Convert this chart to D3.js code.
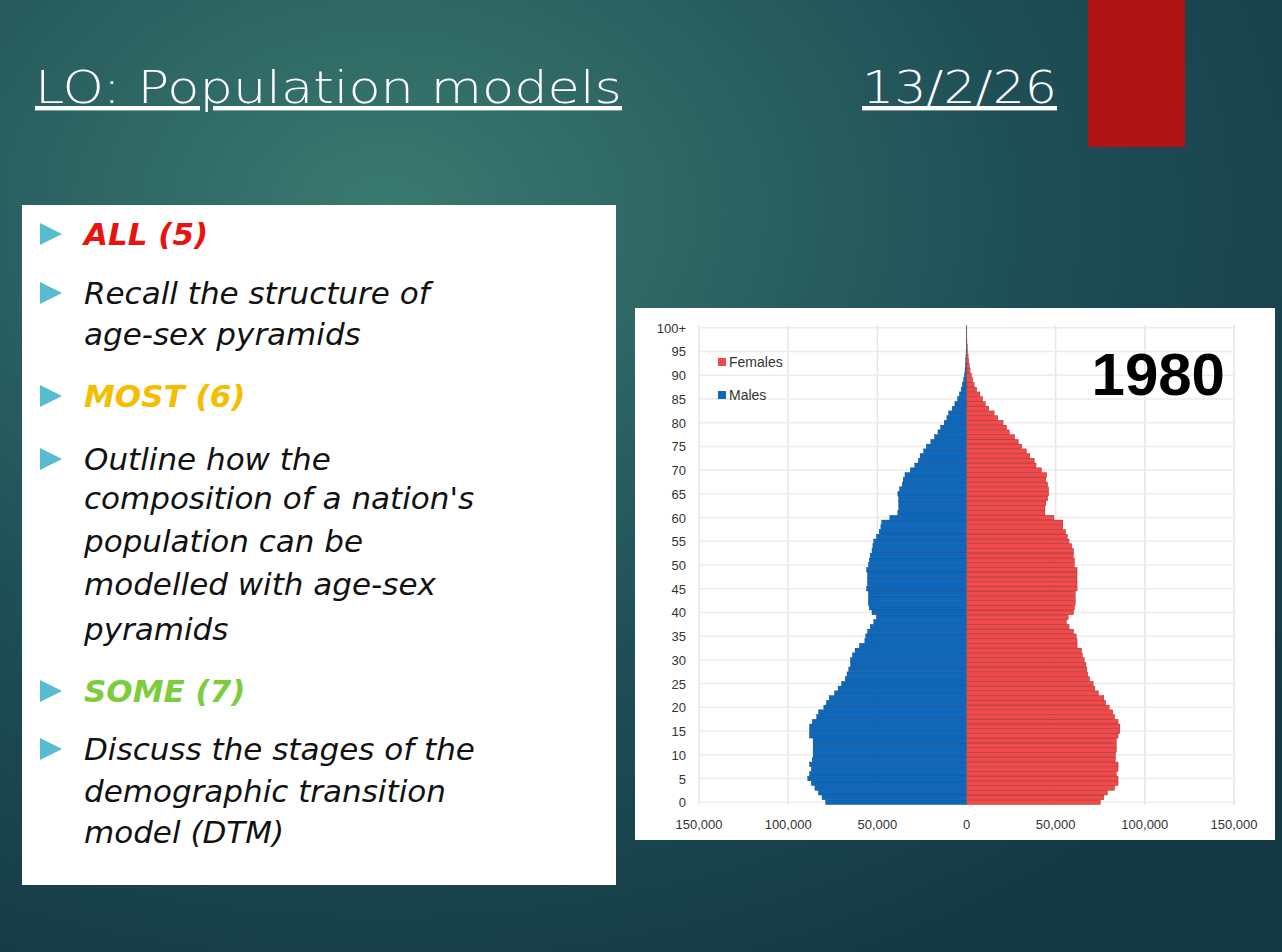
<!DOCTYPE html>
<html><head><meta charset="utf-8">
<script src="https://cdn.jsdelivr.net/npm/d3@7"></script>
<style>body{margin:0;overflow:hidden}svg{display:block}</style>
</head><body>
<script>
const ages = d3.range(0, 101);
const males = [79,81,83,85,87,89,88,87,88,86.5,86,86,86,86,88,88,88,86.5,84,83,
80,78.5,77,74,72,70,68,67,66,65,65,64,62.5,60,57,56.5,55.5,54,52,50.5,
53,54.5,55,55,55,56,55.5,55.5,55.5,56,55,54.5,54,53,52.5,52,50.5,49,48,47.5,
43,38.5,38,38,38,38.5,37.5,36,35.5,34.5,31.5,29,27,26,24,22.5,20,18,16,14.5,
12.5,11,10,8,6.5,5,4,3,2.3,1.6,1.1,0.8,0.6,0.4,0.3,0.2,0.15,0.1,0.05,0.03,0.1];
const females = [75,77,79,83,85,85,84,85,85,83.5,83.5,84,84,84,85,86,86,85,83,82,
80,78,77,74,72,71,69,68,67.5,67,66,65,64.5,62,62,61.5,60,57.5,56,57,
60,60.5,61,61,61,62,62,62,62,62,60.5,60.5,60,60,59,57.5,56.5,55.5,54,54,
49,44,44,44.5,45.5,46,46,45.5,44.5,45,42,39,38,35.5,33.5,31,29,27,24,22.5,
20.5,17.5,15.5,12.5,10.5,9,7.5,5.7,4.3,3.4,2.7,2,1.6,1.2,0.9,0.6,0.4,0.25,0.15,0.1,0.1];
const xTicks = [-150,-100,-50,0,50,100,150];
const yTicks = d3.range(0, 101, 5);
const seriesNames = ["Females","Males"];
const colors = {Females:"#f24a4a", Males:"#0b68bd"};

const W=1282,H=952;
const svg = d3.select("body").append("svg").attr("width",W).attr("height",H);
const defs = svg.append("defs");
const rg = defs.append("radialGradient").attr("id","bg").attr("cx","0.3").attr("cy","0.22").attr("r","0.9");
rg.append("stop").attr("offset","0").attr("stop-color","#3a7a70");
rg.append("stop").attr("offset","0.55").attr("stop-color","#1f4f56");
rg.append("stop").attr("offset","1").attr("stop-color","#143844");
svg.append("rect").attr("width",W).attr("height",H).attr("fill","url(#bg)");
svg.append("rect").attr("x",1088).attr("y",0).attr("width",97).attr("height",147).attr("fill","#b01416");

const tf = "'DejaVu Sans',sans-serif";
svg.append("text").attr("x",35).attr("y",103).attr("fill","#fff").attr("font-family",tf).attr("font-size",44).attr("font-weight",200)
  .attr("textLength",587).attr("lengthAdjust","spacingAndGlyphs").attr("text-decoration","underline").text("LO: Population models");
svg.append("text").attr("x",862).attr("y",103).attr("fill","#fff").attr("font-family",tf).attr("font-size",44).attr("font-weight",200)
  .attr("textLength",195).attr("lengthAdjust","spacingAndGlyphs").attr("text-decoration","underline").text("13/2/26");

svg.append("rect").attr("x",22).attr("y",205).attr("width",594).attr("height",680).attr("fill","#fff");
const lines = [
 {b:true,y:245,t:"ALL (5)",c:"#e8130f",w:"bold"},
 {b:true,y:304,t:"Recall the structure of"},
 {y:345,t:"age-sex pyramids"},
 {b:true,y:407,t:"MOST (6)",c:"#f5bd00",w:"bold"},
 {b:true,y:470,t:"Outline how the"},
 {y:509,t:"composition of a nation's"},
 {y:552,t:"population can be"},
 {y:595,t:"modelled with age-sex"},
 {y:640,t:"pyramids"},
 {b:true,y:702,t:"SOME (7)",c:"#7ccc3c",w:"bold"},
 {b:true,y:760,t:"Discuss the stages of the"},
 {y:802,t:"demographic transition"},
 {y:843,t:"model (DTM)"}
];
lines.forEach(l=>{
  if(l.b) svg.append("path").attr("d",`M40,${l.y-22} L62,${l.y-11} L40,${l.y} Z`).attr("fill","#58bcd0");
  svg.append("text").attr("x",84).attr("y",l.y).attr("fill",l.c||"#111").attr("font-family",tf)
   .attr("font-style","italic").attr("font-weight",l.w||300).attr("font-size",31).text(l.t);
});

svg.append("rect").attr("x",635).attr("y",308).attr("width",640).attr("height",532).attr("fill","#fff");
const x = d3.scaleLinear().domain([-150,150]).range([699,1234]);
const y = d3.scaleBand().domain(ages).range([804.5,325.5]).paddingInner(0.05);
const yc = a => y(a)+y.bandwidth()/2;
const g = svg.append("g");
xTicks.forEach(v=>g.append("line").attr("x1",x(v)).attr("x2",x(v)).attr("y1",325).attr("y2",805).attr("stroke","#e6e6e6").attr("stroke-width",1.5));
yTicks.forEach(v=>g.append("line").attr("x1",x(-150)).attr("x2",x(150)).attr("y1",yc(v)).attr("y2",yc(v)).attr("stroke","#ececec").attr("stroke-width",1.5));
g.selectAll(".m").data(ages).join("rect").attr("x",d=>x(-males[d])).attr("width",d=>x(0)-x(-males[d]))
 .attr("y",d=>y(d)).attr("height",y.bandwidth()).attr("fill",colors.Males).attr("stroke","#08407a").attr("stroke-width",0.4);
g.selectAll(".f").data(ages).join("rect").attr("x",x(0)).attr("width",d=>x(females[d])-x(0))
 .attr("y",d=>y(d)).attr("height",y.bandwidth()).attr("fill",colors.Females).attr("stroke","#8a2020").attr("stroke-width",0.4);
g.append("line").attr("x1",x(0)).attr("x2",x(0)).attr("y1",325).attr("y2",805).attr("stroke","#666").attr("stroke-width",0.8);

const lf="'Liberation Sans',Arial,sans-serif";
const fmt = d3.format(",");
xTicks.forEach(v=>svg.append("text").attr("x",x(v)).attr("y",829).attr("text-anchor","middle").attr("font-family",lf).attr("font-size",13).attr("fill","#333").text(fmt(Math.abs(v*1000))));
yTicks.forEach(v=>svg.append("text").attr("x",686).attr("y",yc(v)+5).attr("text-anchor","end").attr("font-family",lf).attr("font-size",13).attr("fill","#333").text(v===100?"100+":v));

seriesNames.forEach((s,i)=>{
  const yy = 363 + i*33;
  svg.append("rect").attr("x",718).attr("y",yy-5).attr("width",8).attr("height",8).attr("fill",colors[s]);
  svg.append("text").attr("x",729).attr("y",yy+4).attr("font-family",lf).attr("font-size",14).attr("fill","#333").text(s);
});
svg.append("text").attr("x",1225).attr("y",395).attr("text-anchor","end").attr("font-family",lf).attr("font-weight","bold").attr("font-size",60).attr("fill","#000").text("1980");
</script>
</body></html>
